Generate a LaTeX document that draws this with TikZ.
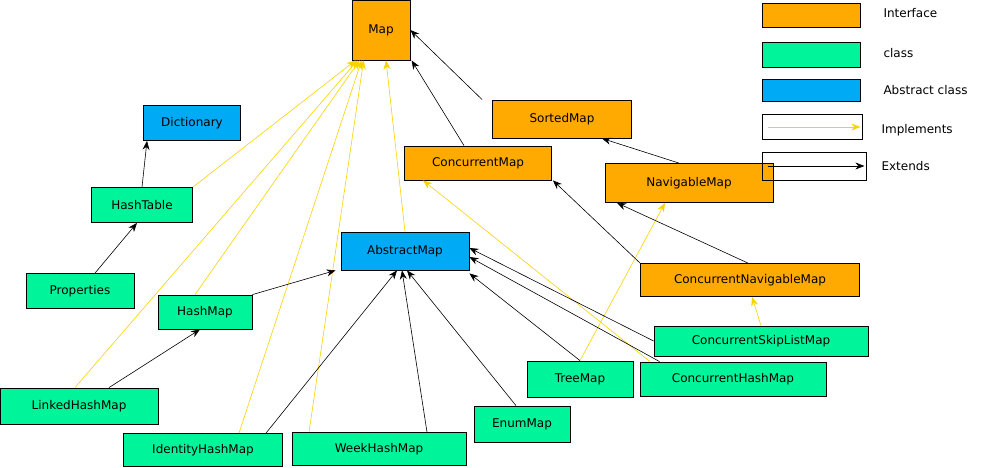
\documentclass[tikz,border=0pt]{standalone}
\usepackage{fontspec}
\setmainfont{DejaVu Sans}
\usetikzlibrary{arrows.meta}
\definecolor{ifc}{RGB}{255,170,0}
\definecolor{clc}{RGB}{0,245,155}
\definecolor{abc}{RGB}{0,170,245}
\definecolor{imc}{RGB}{250,210,0}
\tikzset{
  box/.style={draw, thick, rectangle, inner sep=2pt, font=\fontsize{12}{14}\selectfont},
  iface/.style={box, fill=ifc},
  cls/.style={box, fill=clc},
  abs/.style={box, fill=abc},
  impl/.style={->, >={Stealth[length=9pt,width=7pt]}, imc, semithick},
  ext/.style={->, >={Stealth[length=9pt,width=7pt]}, black, semithick}
}
\begin{document}
\begin{tikzpicture}[x=1pt, y=-1pt]
      \useasboundingbox (0,0) rectangle (1005,468);
      % Interfaces
      \node[iface, minimum width=58pt, minimum height=60pt] (map) at (381,30) {Map};
      \node[iface, minimum width=139pt, minimum height=38pt] (sorted) at (562,119) {SortedMap};
      \node[iface, minimum width=147pt, minimum height=34pt] (conc) at (478,163) {ConcurrentMap};
      \node[iface, minimum width=168pt, minimum height=39pt] (nav) at (689,183) {NavigableMap};
      \node[iface, minimum width=219pt, minimum height=33pt] (cnav) at (750,280) {ConcurrentNavigableMap};

      % Abstract classes
      \node[abs, minimum width=97pt, minimum height=35pt] (dict) at (192,123) {Dictionary};
      \node[abs, minimum width=128pt, minimum height=38pt] (amap) at (405,251) {AbstractMap};

      % Classes
      \node[cls, minimum width=101pt, minimum height=35pt] (htab) at (142,205) {HashTable};
      \node[cls, minimum width=108pt, minimum height=35pt] (props) at (80,291) {Properties};
      \node[cls, minimum width=94pt, minimum height=34pt] (hmap) at (205,312) {HashMap};
      \node[cls, minimum width=158pt, minimum height=36pt] (lhmap) at (79,406) {LinkedHashMap};
      \node[cls, minimum width=159pt, minimum height=33pt] (ihmap) at (203,450) {IdentityHashMap};
      \node[cls, minimum width=174pt, minimum height=33pt] (whmap) at (379,449) {WeekHashMap};
      \node[cls, minimum width=96pt, minimum height=36pt] (emap) at (522,424) {EnumMap};
      \node[cls, minimum width=106pt, minimum height=36pt] (tmap) at (580,379) {TreeMap};
      \node[cls, minimum width=186pt, minimum height=34pt] (chmap) at (733,379) {ConcurrentHashMap};
      \node[cls, minimum width=214pt, minimum height=30pt] (cslmap) at (761,341) {ConcurrentSkipListMap};

      % Legend
      \node[iface, minimum width=98pt, minimum height=24pt] (lgi) at (811,15) {};
      \node[cls, minimum width=98pt, minimum height=25pt] (lgc) at (811,55) {};
      \node[abs, minimum width=98pt, minimum height=22pt] (lga) at (811,90) {};
      \node[box, minimum width=100pt, minimum height=25pt] (lgm) at (812,127) {};
      \node[box, minimum width=104pt, minimum height=28pt] (lge) at (814,166) {};
      \draw[impl] ([xshift=6pt]lgm.west) -- ([xshift=-2pt]lgm.east);
      \draw[ext] ([xshift=6pt]lge.west) -- ([xshift=-2pt]lge.east);
      \node[anchor=west, font=\fontsize{12}{14}\selectfont] (lti) at (880,13) {Interface};
      \node[anchor=west, font=\fontsize{12}{14}\selectfont] (ltc) at (880,53) {class};
      \node[anchor=west, font=\fontsize{12}{14}\selectfont] (lta) at (880,90) {Abstract class};
      \node[anchor=west, font=\fontsize{12}{14}\selectfont] (ltm) at (878,130) {Implements};
      \node[anchor=west, font=\fontsize{12}{14}\selectfont] (lte) at (878,166) {Extends};

      % Implements
      \draw[impl] (htab.north east) -- ([xshift=4pt]map.south west);
      \draw[impl] ([xshift=-4pt]lhmap.north) -- ([xshift=6pt]map.south west);
      \draw[impl] ([xshift=-10pt]hmap.north) -- ([xshift=8pt]map.south west);
      \draw[impl] ([xshift=36pt]ihmap.north) -- ([xshift=10pt]map.south west);
      \draw[impl] ([xshift=-70pt]whmap.north) -- ([xshift=12pt]map.south west);
      \draw[impl] (amap.north) -- ([xshift=5pt]map.south);
      \draw[impl] (tmap.north) -- ([xshift=-24pt]nav.south);
      \draw[impl] ([xshift=-83pt]chmap.north) -- ([xshift=19pt]conc.south west);
      \draw[impl] (cslmap.north) -- ([xshift=2pt]cnav.south);

      % Extends
      \draw[ext] (htab.north) -- ([xshift=-45pt]dict.south);
      \draw[ext] ([xshift=15pt]props.north) -- ([xshift=-5pt]htab.south);
      \draw[ext] ([xshift=30pt]lhmap.north) -- ([xshift=-5pt]hmap.south);
      \draw[ext] (hmap.north east) -- ([xshift=-5pt]amap.south west);
      \draw[ext] ([xshift=63pt]ihmap.north) -- ([xshift=-8pt]amap.south);
      \draw[ext] ([xshift=48pt]whmap.north) -- ([xshift=-3pt]amap.south);
      \draw[ext] ([xshift=-6pt]emap.north) -- ([xshift=2pt]amap.south);
      \draw[ext] (tmap.north) -- ([yshift=-3pt]amap.south east);
      \draw[ext] ([xshift=20pt]chmap.north west) -- ([yshift=-6pt]amap.east);
      \draw[ext] (cslmap.west) -- ([yshift=3pt]amap.east);
      \draw[ext] ([xshift=-14pt]conc.north) -- ([xshift=60pt]map.south west);
      \draw[ext] ([xshift=-10pt]sorted.north west) -- (map.east);
      \draw[ext] ([xshift=-10pt]nav.north) -- ([xshift=-30pt]sorted.south east);
      \draw[ext] ([xshift=-2pt]cnav.north) -- ([xshift=-72pt]nav.south);
      \draw[ext] (cnav.north west) -- ([xshift=1pt]conc.south east);
\end{tikzpicture}
\end{document}
